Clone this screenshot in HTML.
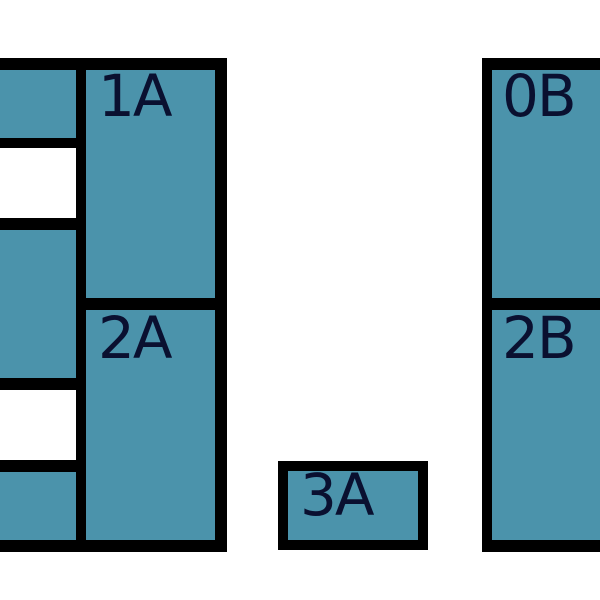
<!DOCTYPE html>
<html><head><style>
body{margin:0;width:600px;height:600px;background:#fff;position:relative;overflow:hidden;font-family:"DejaVu Sans","Liberation Sans",sans-serif;}
.b{position:absolute;background:#000;}
.f{position:absolute;background:#4b93ab;}
.w{position:absolute;background:#fff;}
.t{position:absolute;font-size:58px;line-height:1;color:#0a1030;letter-spacing:-2px;}
</style></head><body>
<div class="b" style="left:0;top:58px;width:227px;height:494px"></div>
<div class="f" style="left:0;top:70px;width:76px;height:68px"></div>
<div class="w" style="left:0;top:148px;width:76px;height:70px"></div>
<div class="f" style="left:0;top:230px;width:76px;height:148px"></div>
<div class="w" style="left:0;top:390px;width:76px;height:70px"></div>
<div class="f" style="left:0;top:472px;width:76px;height:68px"></div>
<div class="f" style="left:86px;top:70px;width:129px;height:228px"></div>
<div class="f" style="left:86px;top:310px;width:129px;height:230px"></div>
<div class="t" style="left:98px;top:67px">1A</div>
<div class="t" style="left:98px;top:309px">2A</div>
<div class="b" style="left:278px;top:461px;width:150px;height:89px"></div>
<div class="f" style="left:288px;top:471px;width:130px;height:69px"></div>
<div class="t" style="left:300px;top:466px">3A</div>
<div class="b" style="left:482px;top:58px;width:130px;height:494px"></div>
<div class="f" style="left:492px;top:70px;width:120px;height:228px"></div>
<div class="f" style="left:492px;top:310px;width:120px;height:230px"></div>
<div class="t" style="left:502px;top:67px">0B</div>
<div class="t" style="left:502px;top:309px">2B</div>
</body></html>
